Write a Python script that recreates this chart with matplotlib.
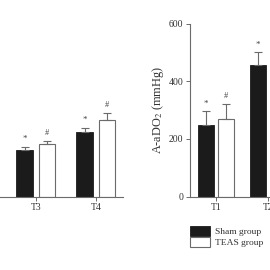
import matplotlib
matplotlib.use('Agg')
import matplotlib.pyplot as plt
from matplotlib.patches import Patch
import numpy as np

plt.rcParams['font.family'] = ['Liberation Serif', 'DejaVu Serif']
plt.rcParams['mathtext.fontset'] = 'stix'

# left panel (cropped, only T3 and T4 visible)
left_cats = ['T3', 'T4']
left_sham = [163, 225]
left_sham_err = [10, 14]
left_teas = [184, 267]
left_teas_err = [10, 24]

# right panel A-aDO2 (cropped after T2 sham bar)
right_cats = ['T1', 'T2']
right_sham = [247, 456]
right_sham_err = [49, 45]
right_teas = [268]
right_teas_err = [52]

W, H = 270, 270
fig = plt.figure(figsize=(2.7, 2.7), dpi=100)

gray = '#6b6b6b'
black = '#1b1b1b'


def px_axes(x0, x1, ytop, ybot):
    return fig.add_axes([x0 / W, 1 - ybot / H, (x1 - x0) / W, (ybot - ytop) / H])


def draw_panel(ax, cats, sham, sham_err, teas, teas_err, w, off):
    x = np.arange(len(cats))
    ekw = dict(ecolor=gray, elinewidth=0.8, capsize=2.6, capthick=0.8)
    ax.bar(x[:len(sham)] - off, sham, w, color=black, edgecolor=black, lw=0.6,
           yerr=[np.zeros(len(sham)), sham_err], error_kw=ekw)
    ax.bar(x[:len(teas)] + off, teas, w, color='white', edgecolor=gray, lw=0.8,
           yerr=[np.zeros(len(teas)), teas_err], error_kw=ekw)
    for i in range(len(sham)):
        ax.annotate('*', (x[i] - off, sham[i] + sham_err[i]), xytext=(0, 2.5),
                    textcoords='offset points', ha='center', va='bottom',
                    fontsize=6.5, color='#444444')
    for i in range(len(teas)):
        ax.annotate('#', (x[i] + off, teas[i] + teas_err[i]), xytext=(0, 3),
                    textcoords='offset points', ha='center', va='bottom',
                    fontsize=6, color='#444444')
    ax.set_xticks(x)
    ax.set_xticklabels(cats, fontsize=7)
    for s in ['top', 'right']:
        ax.spines[s].set_visible(False)
    for s in ['left', 'bottom']:
        ax.spines[s].set_color(gray)
        ax.spines[s].set_linewidth(0.8)
    ax.tick_params(colors=gray, length=3, width=0.7, pad=2, labelcolor='#333333')
    ax.set_ylim(0, 600)


# left panel, mostly off the canvas
axl = px_axes(-114, 123, 24, 196.5)
draw_panel(axl, left_cats, left_sham, left_sham_err, left_teas, left_teas_err,
           0.28, 0.185)
axl.set_xlim(-2.5, 1.45)
axl.set_yticks([])
axl.spines['left'].set_visible(False)

# right panel
axr = px_axes(190, 398, 24, 196.5)
draw_panel(axr, right_cats, right_sham, right_sham_err, right_teas, right_teas_err,
           0.31, 0.2)
axr.set_xlim(-0.5, 3.5)
axr.set_yticks([0, 200, 400, 600])
axr.tick_params(axis='y', labelsize=7)
axr.set_ylabel('A-aDO$_2$ (mmHg)', fontsize=8.8, color='#333333', labelpad=1.5)

handles = [Patch(facecolor=black, edgecolor=black, lw=0.6),
           Patch(facecolor='white', edgecolor=gray, lw=0.8)]
fig.legend(handles, ['Sham group', 'TEAS group'], loc='upper left',
           bbox_to_anchor=(188 / W, 1 - 224 / H), frameon=False, fontsize=6.8,
           handlelength=2.15, handleheight=1.3, labelspacing=0.05,
           handletextpad=0.5, borderaxespad=0, borderpad=0.2,
           labelcolor='#333333')

fig.savefig('out.png', dpi=100)
